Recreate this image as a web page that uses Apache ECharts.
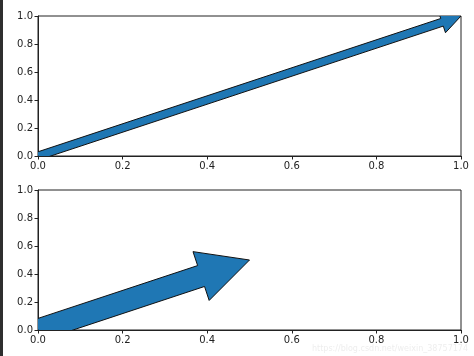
<!DOCTYPE html>
<html>
<head>
<meta charset="utf-8">
<script src="https://cdn.jsdelivr.net/npm/echarts@6/dist/echarts.min.js"></script>
<style>
html,body{margin:0;padding:0;background:#fff;}
#chart{width:474px;height:356px;}
</style>
</head>
<body>
<div id="chart"></div>
<script>
// Data
const topArrowStart = [0, 0];
const topArrowEnd = [1, 1];
const bottomArrowStart = [0, 0];
const bottomArrowEnd = [0.5, 0.5];
const xTickLabels = ['0.0', '0.2', '0.4', '0.6', '0.8', '1.0'];
const yTickLabels = ['0.0', '0.2', '0.4', '0.6', '0.8', '1.0'];

const chart = echarts.init(document.getElementById('chart'), null, {renderer: 'canvas'});
const FONT = 'DejaVu Sans';
const AX = '#222';

function arrowRenderer(sw, hw, hl) {
  return function (params, api) {
    const p0 = api.coord([api.value(0), api.value(1)]);
    const p1 = api.coord([api.value(2), api.value(3)]);
    const dx = p1[0] - p0[0], dy = p1[1] - p0[1];
    const L = Math.sqrt(dx * dx + dy * dy);
    const ux = dx / L, uy = dy / L;
    const nx = -uy, ny = ux;
    const bx = p1[0] - ux * hl, by = p1[1] - uy * hl;
    const pts = [
      [p0[0] + nx * sw, p0[1] + ny * sw],
      [bx + nx * sw, by + ny * sw],
      [bx + nx * hw, by + ny * hw],
      [p1[0], p1[1]],
      [bx - nx * hw, by - ny * hw],
      [bx - nx * sw, by - ny * sw],
      [p0[0] - nx * sw, p0[1] - ny * sw]
    ];
    return {
      type: 'polygon',
      shape: {points: pts},
      style: {fill: '#1f77b4', stroke: '#111', lineWidth: 1}
    };
  };
}

function xAxisFor(gi) {
  return {
    type: 'value', gridIndex: gi, min: 0, max: 1, interval: 0.2,
    axisLine: {show: true, lineStyle: {color: AX, width: 1}},
    axisTick: {show: true, length: 3.5, lineStyle: {color: AX}},
    splitLine: {show: false},
    axisLabel: {
      color: '#222', fontFamily: FONT, fontSize: 10, margin: 5,
      formatter: function (v) { return xTickLabels[Math.round(v / 0.2)]; }
    }
  };
}
function yAxisFor(gi) {
  return {
    type: 'value', gridIndex: gi, min: 0, max: 1, interval: 0.2,
    axisLine: {show: true, lineStyle: {color: AX, width: 1}},
    axisTick: {show: true, length: 3.5, lineStyle: {color: AX}},
    splitLine: {show: false},
    axisLabel: {
      color: '#222', fontFamily: FONT, fontSize: 10, margin: 5,
      formatter: function (v) { return yTickLabels[Math.round(v / 0.2)]; }
    }
  };
}

chart.setOption({
  animation: false,
  backgroundColor: '#fff',
  grid: [
    {left: 38, right: 13, top: 16, height: 140, show: true, borderColor: AX, borderWidth: 1, backgroundColor: 'transparent'},
    {left: 38, right: 13, top: 190, height: 140, show: true, borderColor: AX, borderWidth: 1, backgroundColor: 'transparent'}
  ],
  xAxis: [xAxisFor(0), xAxisFor(1)],
  yAxis: [yAxisFor(0), yAxisFor(1)],
  series: [
    {
      type: 'custom', xAxisIndex: 0, yAxisIndex: 0, clip: true,
      renderItem: arrowRenderer(4, 11, 20),
      data: [[topArrowStart[0], topArrowStart[1], topArrowEnd[0], topArrowEnd[1]]]
    },
    {
      type: 'custom', xAxisIndex: 1, yAxisIndex: 1, clip: true,
      renderItem: arrowRenderer(11, 25.7, 51),
      data: [[bottomArrowStart[0], bottomArrowStart[1], bottomArrowEnd[0], bottomArrowEnd[1]]]
    }
  ],
  graphic: [
    {type: 'rect', left: 0, top: 0, shape: {width: 3, height: 356}, style: {fill: '#2e2e2e'}},
    {type: 'text', right: 6, top: 345, style: {text: 'https://blog.csdn.net/weixin_38757174', fill: '#eeeeee', font: '8px "DejaVu Sans"'}}
  ]
});
</script>
</body>
</html>
